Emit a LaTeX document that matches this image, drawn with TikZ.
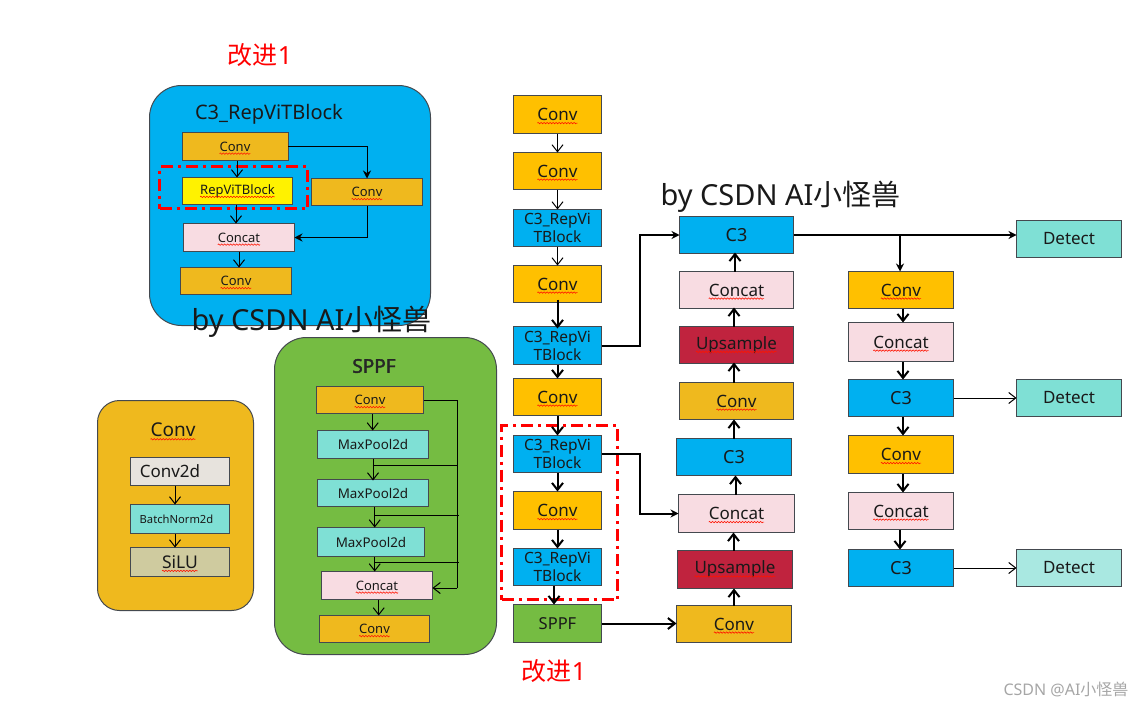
\documentclass[tikz,border=0pt]{standalone}
\usepackage{fontspec}
\setmainfont{Noto Sans}
\newfontfamily\cjk{Noto Sans CJK SC}
\newfontfamily\heavy[FakeBold=2]{Noto Sans}
\usetikzlibrary{arrows.meta,decorations.pathmorphing}
\newcommand{\fs}[1]{\fontsize{#1}{#1}\selectfont}
\newcommand{\squig}[1]{\tikz[baseline=(sq.base)]{\node[inner sep=0pt,outer sep=0pt,minimum width=0pt,minimum height=0pt,draw=none,fill=none,anchor=base] (sq) {#1}; \draw[overlay,draw=red!85!orange,line width=0.6pt,decorate,decoration={zigzag,amplitude=0.7pt,segment length=3pt}] ([yshift=-2.5pt]sq.base west) -- ([yshift=-2.5pt]sq.base east);}}
\definecolor{boxline}{HTML}{44494F}
\definecolor{cconv}{HTML}{FFC000}
\definecolor{cconvb}{HTML}{EFB91E}
\definecolor{cblue}{HTML}{00B0F0}
\definecolor{cpink}{HTML}{F8DCE2}
\definecolor{cred}{HTML}{C0233E}
\definecolor{cteal}{HTML}{7FE0D5}
\definecolor{cteallt}{HTML}{A9E8E1}
\definecolor{cgreen}{HTML}{75BC42}
\definecolor{cgrey}{HTML}{E7E3DD}
\definecolor{ckhaki}{HTML}{CFCB9F}

\begin{document}
\begin{tikzpicture}[x=1pt,y=-1pt,
wh/.style 2 args={minimum width=#1pt-1pt,minimum height=#2pt-1pt},
box/.style={rectangle, draw=boxline, line width=1pt, inner sep=0pt, outer sep=0pt, align=center, text=black!90, font=\fs{17}},
small/.style={font=\fs{13}},
panel/.style={rectangle, draw=boxline, line width=1pt, rounded corners=32pt, inner sep=0pt},
redframe/.style={rectangle, draw=red, line width=3pt, inner sep=0pt, dash pattern=on 12pt off 5pt on 3pt off 5pt},
redtext/.style={text=red, font=\fs{25}},
bytext/.style={text=black!90, font=\fs{29}},
barb/.style={draw=black, line width=1pt, -{Straight Barb[length=7pt,width=11pt]}},
barbb/.style={draw=black, line width=2pt, -{Straight Barb[length=7pt,width=11pt]}},
tip/.style={draw=black, line width=1pt, -{Stealth[length=8pt,width=8pt]}},
tipb/.style={draw=black, line width=2pt, -{Stealth[length=8pt,width=8pt]}},
wire/.style={draw=black, line width=1pt},
]
\useasboundingbox (0,0) rectangle (1146,707);

% C3_RepViTBlock panel
\draw (290,205.5) node[panel,fill=cblue,wh={282}{241}] (BlockPanel) {};
\draw (269,114) node[font=\fs{20},text=black!90] (BlockTitle) {C3\_RepViTBlock};
\draw (260,55) node[redtext] (RedA) {{\cjk 改进}1};
\draw (235,146.5) node[box,small,fill=cconvb,wh={107}{29}] (BConvA) {\squig{Conv}};
\draw (237.5,191) node[box,small,fill=yellow,wh={111}{28}] (BRep) {\raisebox{-1pt}{\squig{RepViTBlock}}};
\draw (367,192) node[box,small,fill=cconvb,wh={112}{28}] (BConvB) {\squig{Conv}};
\draw (239,237.5) node[box,small,fill=cpink,wh={112}{29}] (BConcat) {\squig{Concat}};
\draw (236,281) node[box,small,fill=cconvb,wh={112}{28}] (BConvC) {\squig{Conv}};
\draw (233.5,187.5) node[redframe,wh={149}{43}] (BFrame) {};

\draw[barb] ([xshift=2pt]BConvA.south) -- ([xshift=2pt]BConvA.south |- BRep.north);
\draw[barb] ([xshift=-1.5pt]BRep.south) -- ([xshift=-1.5pt]BRep.south |- BConcat.north);
\draw[barb] (BConcat.south) -- (BConcat.south |- BConvC.north);
\draw[tip] (BConvA.east) -| (BConvB.north);
\draw[tip] (BConvB.south) |- (BConcat.east);

% Conv panel
\draw (175.5,505.5) node[panel,rounded corners=22pt,fill=cconvb,wh={157}{211}] (ConvPanel) {};
\draw (173,430) node[font=\fs{19},text=black!90] (ConvTitle) {\squig{Conv}};
\draw (180,471.5) node[box,fill=cgrey,font=\fs{17},wh={100}{29}] (Conv2d) {\hspace*{-20pt}Conv2d};
\draw (180,519) node[box,small,fill=cteal,font=\fs{11.2},wh={100}{30}] (BNorm) {\hspace*{-7pt}BatchNorm2d};
\draw (180,562) node[box,fill=ckhaki,font=\fs{17.5},wh={100}{30}] (Silu) {\squig{SiLU}};

\draw[barb] ([xshift=-5pt]Conv2d.south) -- ([xshift=-5pt]Conv2d.south |- BNorm.north);
\draw[barb] ([xshift=-5pt]BNorm.south) -- ([xshift=-5pt]BNorm.south |- Silu.north);

% SPPF panel
\draw (385.5,496) node[panel,fill=cgreen,wh={223}{318}] (SppfPanel) {};
\draw (374,366) node[font=\heavy\fs{19},text=black!85] (SppfTitle) {SPPF};
\draw (370,400) node[box,small,fill=cconvb,wh={108}{28}] (SConvA) {\squig{Conv}};
\draw (373,444.5) node[box,small,fill=cteal,font=\fs{13.4},wh={112}{29}] (SPoolA) {MaxPool2d};
\draw (373,493) node[box,small,fill=cteal,font=\fs{13.4},wh={112}{28}] (SPoolB) {MaxPool2d};
\draw (371,542) node[box,small,fill=cteal,font=\fs{13.4},wh={108}{30}] (SPoolC) {MaxPool2d};
\draw (377,585.5) node[box,small,fill=cpink,wh={112}{29}] (SConcat) {\squig{Concat}};
\draw (374.5,629) node[box,small,fill=cconvb,wh={111}{28}] (SConvB) {\squig{Conv}};

\coordinate (BusTop) at (457,400);
\coordinate (BusBot) at (457,588);
\coordinate (BusA) at (457,465);
\coordinate (BusB) at (458.5,515);
\coordinate (BusC) at (458.5,562);
\coordinate (TapA) at (372.7,465);
\coordinate (TapB) at (374.7,515);
\coordinate (TapC) at (374.7,562);

\draw[wire] (SConvA.east) -- (BusTop) -- (BusBot);
\draw[barb] (BusBot) -- (SConcat.east |- BusBot);
\draw[barb] ([xshift=2.7pt]SConvA.south) -- ([xshift=2.7pt]SConvA.south |- SPoolA.north);
\draw[barb] (SPoolA.south) -- ([yshift=-1pt]SPoolB.north);
\draw[barb] ([xshift=1.7pt]SPoolB.south) -- ([xshift=1.7pt]SPoolB.south |- SPoolC.north);
\draw[barb] ([xshift=3.7pt]SPoolC.south) -- ([xshift=3.7pt]SPoolC.south |- SConcat.north);
\draw[barb] ([xshift=1.7pt]SConcat.south) -- ([xshift=1.7pt]SConcat.south |- SConvB.north);
\draw[wire] (TapA) -- (BusA);
\draw[wire] (TapB) -- (BusB);
\draw[wire] (TapC) -- (BusC);

% main column
\draw (557.5,114.5) node[box,fill=cconv,wh={89}{39}] (ConvA) {\squig{Conv}};
\draw (557.5,171) node[box,fill=cconv,wh={89}{38}] (ConvB) {\squig{Conv}};
\draw (557.5,228) node[box,fill=cblue,font=\fs{15.5},wh={89}{38}] (RepA) {C3\_RepVi\\[2.5pt]TBlock};
\draw (557.5,284) node[box,fill=cconv,wh={89}{38}] (ConvC) {\squig{Conv}};
\draw (557.5,345.5) node[box,fill=cblue,font=\fs{15.5},wh={89}{39}] (RepB) {C3\_RepVi\\[2.5pt]TBlock};
\draw (557.5,397) node[box,fill=cconv,wh={89}{38}] (ConvD) {\squig{Conv}};
\draw (557.5,454) node[box,fill=cblue,font=\fs{15.5},wh={89}{38}] (RepC) {C3\_RepVi\\[2.5pt]TBlock};
\draw (557.5,510.5) node[box,fill=cconv,wh={89}{39}] (ConvE) {\squig{Conv}};
\draw (557.5,567) node[box,fill=cblue,font=\fs{15.5},wh={89}{38}] (RepD) {C3\_RepVi\\[2.5pt]TBlock};
\draw (557.5,623.5) node[box,fill=cgreen,font=\fs{16.5},wh={89}{39}] (Sppf) {SPPF};
\draw (559.5,512.5) node[redframe,wh={117}{175}] (MainFrame) {};
\draw (554,671) node[redtext] (RedB) {{\cjk 改进}1};

\draw[barb] (ConvA) -- (ConvB);
\draw[barb] (ConvB) -- (RepA);
\draw[barb] (RepA) -- (ConvC);
\draw[barbb] ([yshift=3pt]ConvC.south) -- ([yshift=-2pt]RepB.north);
\draw[barbb] (RepB) -- (ConvD);
\draw[barbb] (ConvD) -- (RepC);
\draw[barbb] (RepC) -- (ConvE);
\draw[barbb] (ConvE) -- (RepD);
\draw[barbb] ([xshift=-3.5pt]RepD.south) -- ([xshift=-3.5pt]RepD.south |- Sppf.north);

% second column
\draw (736.5,235) node[box,fill=cblue,font=\fs{18},wh={115}{38}] (CThreeA) {C3};
\draw (736.5,290) node[box,fill=cpink,wh={115}{38}] (ConcatA) {\squig{Concat}};
\draw (736.5,345) node[box,fill=cred,wh={115}{38}] (UpA) {\raisebox{-2pt}{\squig{Upsample}}};
\draw (736.5,401) node[box,fill=cconvb,wh={115}{38}] (ConvF) {\squig{Conv}};
\draw (734,457) node[box,fill=cblue,font=\fs{18},wh={116}{38}] (CThreeB) {C3};
\draw (736.5,513.5) node[box,fill=cpink,wh={117}{39}] (ConcatB) {\squig{Concat}};
\draw (735,569.5) node[box,fill=cred,wh={116}{39}] (UpB) {\raisebox{-2pt}{\squig{Upsample}}};
\draw (734,624) node[box,fill=cconvb,wh={116}{38}] (ConvG) {\squig{Conv}};

\draw[barbb] ([xshift=-1.5pt]ConcatA.north) -- ([xshift=-1.5pt,yshift=1pt]ConcatA.north |- CThreeA.south);
\draw[barbb] ([xshift=-2.5pt]UpA.north) -- ([xshift=-2.5pt,yshift=1pt]UpA.north |- ConcatA.south);
\draw[barbb] ([xshift=-2.5pt]ConvF.north) -- ([xshift=-2.5pt,yshift=1pt]ConvF.north |- UpA.south);
\draw[barbb] (CThreeB.north) -- (CThreeB.north |- ConvF.south);
\draw[barbb] ([xshift=-1pt]ConcatB.north) -- ([xshift=-1pt]ConcatB.north |- CThreeB.south);
\draw[barbb] ([xshift=-1.5pt]UpB.north) -- ([xshift=-1.5pt]UpB.north |- ConcatB.south);
\draw[barbb] (ConvG.north) -- (ConvG.north |- UpB.south);

\coordinate (LaneA) at (639.7,345.5);
\coordinate (LaneB) at (639.7,454);
\draw[tipb] (RepB.east) -- (LaneA) |- (CThreeA.west);
\draw[tipb] (RepC.east) -- (LaneB) |- (ConcatB.west);
\draw[barbb] (Sppf.east) -- (ConvG.west |- Sppf.east);

% third column
\draw (901,290) node[box,fill=cconv,wh={106}{38}] (ConvH) {\squig{Conv}};
\draw (901,342) node[box,fill=cpink,wh={106}{40}] (ConcatC) {\squig{Concat}};
\draw (901,398) node[box,fill=cblue,font=\fs{18},wh={106}{38}] (CThreeC) {C3};
\draw (901,454.5) node[box,fill=cconv,wh={106}{39}] (ConvI) {\squig{Conv}};
\draw (901,511) node[box,fill=cpink,wh={106}{38}] (ConcatD) {\squig{Concat}};
\draw (901,568) node[box,fill=cblue,font=\fs{18},wh={106}{38}] (CThreeD) {C3};
\draw (1069,239) node[box,fill=cteal,wh={106}{38}] (DetA) {Detect};
\draw (1069,398) node[box,fill=cteal,wh={106}{38}] (DetB) {Detect};
\draw (1069,568) node[box,fill=cteallt,wh={106}{38}] (DetC) {Detect};

\coordinate (SplitTop) at (900,235);
\draw[tipb] (CThreeA.east) -- (DetA.west |- CThreeA.east);
\draw[tipb] (SplitTop) -- ([xshift=-1pt]ConvH.north);
\draw[barbb] ([xshift=2pt]ConvH.south) -- ([xshift=2pt]ConvH.south |- ConcatC.north);
\draw[barbb] ([xshift=2pt]ConcatC.south) -- ([xshift=2pt]ConcatC.south |- CThreeC.north);
\draw[barbb] ([xshift=2pt]CThreeC.south) -- ([xshift=2pt]CThreeC.south |- ConvI.north);
\draw[barbb] ([xshift=2pt]ConvI.south) -- ([xshift=2pt]ConvI.south |- ConcatD.north);
\draw[barbb] ([xshift=-1pt]ConcatD.south) -- ([xshift=-1pt]ConcatD.south |- CThreeD.north);
\draw[barb] (CThreeC) -- (DetB);
\draw[barb] (CThreeD) -- (DetC);

% overlay text
\draw (311.5,322) node[bytext] (ByA) {by CSDN AI{\cjk 小怪兽}};
\draw (780.5,197) node[bytext] (ByB) {by CSDN AI{\cjk 小怪兽}};
\draw (1066,689) node[text=black!35,font=\fs{16}] (Mark) {CSDN @AI{\cjk 小怪兽}};

\end{tikzpicture}
\end{document}
